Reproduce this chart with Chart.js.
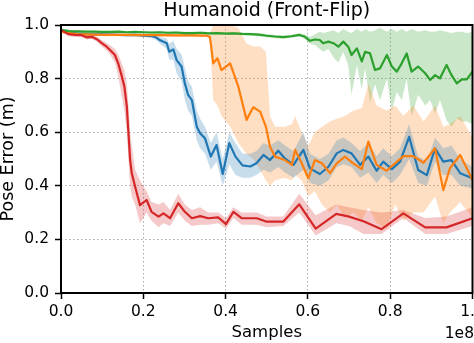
<!DOCTYPE html>
<html>
<head>
<meta charset="utf-8">
<script src="https://cdn.jsdelivr.net/npm/chart.js@4/dist/chart.umd.min.js"></script>
<style>
  html, body { margin: 0; padding: 0; background: #fff; }
  #c { display: block; }
</style>
</head>
<body>
<canvas id="c" width="474" height="343"></canvas>
<script>
// ---- Data (x in units of 1e8 samples, y = pose error in m) ----
const xTicks = [0.0, 0.2, 0.4, 0.6, 0.8, 1.0];
const yTicks = [0.0, 0.2, 0.4, 0.6, 0.8, 1.0];

// Blue (C0)
const blueX = [0, 0.02, 0.04, 0.06, 0.08, 0.10, 0.12, 0.14, 0.16, 0.18, 0.20, 0.22, 0.23, 0.241, 0.257, 0.263, 0.273, 0.281, 0.293, 0.301, 0.309, 0.318, 0.33, 0.338, 0.35, 0.364, 0.378, 0.393, 0.409, 0.424, 0.441, 0.46, 0.475, 0.492, 0.508, 0.528, 0.544, 0.565, 0.589, 0.605, 0.629, 0.65, 0.67, 0.686, 0.706, 0.727, 0.747, 0.767, 0.783, 0.804, 0.824, 0.846, 0.868, 0.889, 0.909, 0.929, 0.949, 0.97, 1.0];
const blueY = [0.98, 0.972, 0.968, 0.966, 0.965, 0.965, 0.964, 0.963, 0.962, 0.963, 0.96, 0.958, 0.955, 0.943, 0.932, 0.90, 0.909, 0.869, 0.845, 0.782, 0.739, 0.72, 0.62, 0.596, 0.577, 0.509, 0.552, 0.444, 0.559, 0.509, 0.476, 0.472, 0.484, 0.515, 0.496, 0.531, 0.502, 0.478, 0.534, 0.465, 0.444, 0.471, 0.521, 0.534, 0.521, 0.478, 0.509, 0.456, 0.49, 0.462, 0.49, 0.583, 0.459, 0.44, 0.54, 0.49, 0.496, 0.447, 0.428];
const blueLo = [0.976, 0.968, 0.964, 0.962, 0.961, 0.961, 0.96, 0.959, 0.958, 0.959, 0.955, 0.952, 0.945, 0.93, 0.91, 0.87, 0.87, 0.82, 0.79, 0.72, 0.68, 0.66, 0.57, 0.54, 0.52, 0.46, 0.49, 0.40, 0.48, 0.44, 0.43, 0.43, 0.44, 0.46, 0.45, 0.47, 0.45, 0.43, 0.46, 0.41, 0.40, 0.42, 0.47, 0.48, 0.47, 0.43, 0.45, 0.41, 0.44, 0.41, 0.44, 0.50, 0.41, 0.40, 0.49, 0.44, 0.44, 0.40, 0.39];
const blueHi = [0.984, 0.976, 0.972, 0.97, 0.969, 0.969, 0.968, 0.967, 0.966, 0.967, 0.965, 0.964, 0.962, 0.955, 0.95, 0.93, 0.94, 0.91, 0.89, 0.84, 0.79, 0.77, 0.68, 0.65, 0.62, 0.56, 0.60, 0.50, 0.60, 0.56, 0.52, 0.52, 0.53, 0.56, 0.55, 0.57, 0.55, 0.53, 0.60, 0.52, 0.50, 0.52, 0.57, 0.58, 0.56, 0.53, 0.56, 0.51, 0.54, 0.51, 0.54, 0.63, 0.51, 0.49, 0.58, 0.54, 0.55, 0.50, 0.47];

// Orange (C1)
const orangeX = [0, 0.04, 0.08, 0.12, 0.16, 0.20, 0.24, 0.28, 0.32, 0.355, 0.362, 0.37, 0.38, 0.39, 0.411, 0.431, 0.451, 0.467, 0.484, 0.498, 0.508, 0.52, 0.544, 0.561, 0.569, 0.585, 0.601, 0.617, 0.634, 0.654, 0.67, 0.69, 0.71, 0.731, 0.747, 0.767, 0.791, 0.812, 0.832, 0.856, 0.881, 0.909, 0.929, 0.945, 0.97, 1.0];
const orangeY = [0.975, 0.966, 0.964, 0.963, 0.963, 0.962, 0.962, 0.961, 0.961, 0.96, 0.955, 0.857, 0.876, 0.832, 0.857, 0.77, 0.646, 0.693, 0.677, 0.62, 0.546, 0.509, 0.496, 0.478, 0.534, 0.484, 0.428, 0.496, 0.484, 0.447, 0.484, 0.509, 0.484, 0.462, 0.565, 0.478, 0.456, 0.484, 0.511, 0.511, 0.486, 0.54, 0.384, 0.465, 0.515, 0.422];
const orangeLo = [0.97, 0.961, 0.959, 0.958, 0.958, 0.957, 0.957, 0.956, 0.956, 0.955, 0.94, 0.72, 0.70, 0.66, 0.62, 0.56, 0.52, 0.50, 0.46, 0.42, 0.40, 0.42, 0.43, 0.42, 0.44, 0.42, 0.36, 0.38, 0.33, 0.30, 0.33, 0.28, 0.30, 0.27, 0.32, 0.26, 0.24, 0.33, 0.27, 0.30, 0.30, 0.36, 0.26, 0.30, 0.34, 0.28];
const orangeHi = [0.98, 0.971, 0.969, 0.968, 0.968, 0.967, 0.967, 0.966, 0.966, 0.965, 0.97, 1.0, 1.0, 1.0, 1.0, 0.99, 0.93, 0.92, 0.92, 0.90, 0.66, 0.62, 0.62, 0.63, 0.66, 0.60, 0.55, 0.60, 0.62, 0.64, 0.65, 0.66, 0.68, 0.69, 0.78, 0.70, 0.68, 0.70, 0.66, 0.70, 0.64, 0.70, 0.62, 0.63, 0.66, 0.58];

// Green (C2)
const greenX = [0, 0.02, 0.04, 0.06, 0.08, 0.10, 0.12, 0.14, 0.16, 0.18, 0.20, 0.22, 0.24, 0.26, 0.28, 0.30, 0.32, 0.34, 0.36, 0.38, 0.40, 0.42, 0.44, 0.46, 0.48, 0.50, 0.52, 0.54, 0.56, 0.58, 0.593, 0.605, 0.617, 0.629, 0.637, 0.65, 0.662, 0.674, 0.686, 0.698, 0.706, 0.719, 0.731, 0.739, 0.751, 0.763, 0.775, 0.792, 0.804, 0.816, 0.828, 0.84, 0.852, 0.868, 0.885, 0.897, 0.909, 0.921, 0.937, 0.949, 0.962, 0.974, 0.986, 1.0];
const greenY = [0.982, 0.977, 0.976, 0.975, 0.975, 0.974, 0.974, 0.975, 0.973, 0.974, 0.973, 0.972, 0.973, 0.971, 0.972, 0.970, 0.970, 0.971, 0.969, 0.970, 0.968, 0.969, 0.967, 0.966, 0.964, 0.960, 0.957, 0.955, 0.958, 0.963, 0.956, 0.941, 0.946, 0.944, 0.932, 0.938, 0.932, 0.919, 0.938, 0.919, 0.888, 0.913, 0.864, 0.90, 0.894, 0.832, 0.838, 0.888, 0.845, 0.826, 0.857, 0.894, 0.826, 0.845, 0.82, 0.795, 0.813, 0.801, 0.851, 0.813, 0.782, 0.797, 0.797, 0.826];
const greenLo = [0.977, 0.972, 0.971, 0.970, 0.970, 0.969, 0.969, 0.970, 0.968, 0.969, 0.968, 0.967, 0.968, 0.966, 0.967, 0.965, 0.965, 0.966, 0.964, 0.965, 0.963, 0.964, 0.962, 0.961, 0.958, 0.954, 0.951, 0.949, 0.952, 0.957, 0.948, 0.93, 0.925, 0.91, 0.90, 0.91, 0.88, 0.86, 0.90, 0.85, 0.74, 0.85, 0.76, 0.84, 0.71, 0.78, 0.72, 0.80, 0.68, 0.75, 0.72, 0.80, 0.66, 0.74, 0.70, 0.72, 0.67, 0.72, 0.645, 0.62, 0.65, 0.64, 0.64, 0.63];
const greenHi = [0.986, 0.981, 0.980, 0.979, 0.979, 0.978, 0.978, 0.979, 0.977, 0.978, 0.977, 0.976, 0.977, 0.975, 0.976, 0.975, 0.975, 0.976, 0.974, 0.975, 0.973, 0.974, 0.972, 0.971, 0.970, 0.966, 0.963, 0.961, 0.964, 0.969, 0.965, 0.955, 0.965, 0.975, 0.97, 0.975, 0.98, 0.97, 0.985, 0.975, 0.97, 0.985, 0.975, 0.985, 0.975, 0.98, 0.99, 0.975, 0.985, 0.975, 0.985, 0.975, 0.985, 0.975, 0.98, 0.975, 0.975, 0.98, 0.975, 0.97, 0.975, 0.975, 0.97, 0.975];

// Red (C3)
const redX = [0, 0.018, 0.034, 0.05, 0.062, 0.075, 0.087, 0.099, 0.111, 0.119, 0.131, 0.139, 0.147, 0.154, 0.16, 0.164, 0.168, 0.172, 0.18, 0.192, 0.208, 0.22, 0.237, 0.249, 0.265, 0.285, 0.301, 0.318, 0.338, 0.358, 0.382, 0.401, 0.419, 0.439, 0.476, 0.5, 0.54, 0.579, 0.619, 0.669, 0.70, 0.735, 0.779, 0.832, 0.885, 0.937, 1.0];
const redY = [0.981, 0.966, 0.963, 0.962, 0.954, 0.956, 0.947, 0.932, 0.919, 0.907, 0.888, 0.857, 0.813, 0.77, 0.695, 0.596, 0.496, 0.447, 0.397, 0.328, 0.347, 0.303, 0.285, 0.297, 0.279, 0.335, 0.303, 0.279, 0.287, 0.279, 0.282, 0.257, 0.303, 0.279, 0.279, 0.266, 0.266, 0.331, 0.24, 0.295, 0.285, 0.268, 0.238, 0.297, 0.245, 0.245, 0.279];
const redLo = [0.975, 0.958, 0.955, 0.955, 0.946, 0.948, 0.938, 0.92, 0.905, 0.89, 0.86, 0.81, 0.74, 0.68, 0.60, 0.50, 0.40, 0.36, 0.33, 0.26, 0.30, 0.27, 0.245, 0.26, 0.25, 0.30, 0.27, 0.25, 0.255, 0.255, 0.26, 0.24, 0.28, 0.255, 0.255, 0.245, 0.25, 0.30, 0.215, 0.26, 0.25, 0.22, 0.22, 0.28, 0.22, 0.22, 0.25];
const redHi = [0.986, 0.973, 0.97, 0.969, 0.962, 0.964, 0.956, 0.944, 0.933, 0.924, 0.91, 0.89, 0.86, 0.83, 0.78, 0.70, 0.60, 0.55, 0.46, 0.42, 0.38, 0.34, 0.33, 0.34, 0.31, 0.37, 0.33, 0.31, 0.32, 0.30, 0.30, 0.28, 0.32, 0.30, 0.30, 0.285, 0.285, 0.37, 0.29, 0.33, 0.32, 0.31, 0.30, 0.31, 0.28, 0.285, 0.32];

const titleText = 'Humanoid (Front-Flip)';
const xLabel = 'Samples';
const yLabel = 'Pose Error (m)';
const xOffsetText = '1e8';

// ---- Build datasets ----
const pts = (xs, ys) => xs.map((x, i) => ({ x: x, y: ys[i] }));
const FONT = "'DejaVu Sans', sans-serif";
const series = [
  { x: blueX, y: blueY, lo: blueLo, hi: blueHi, line: '#1f77b4', band: 'rgba(31,119,180,0.25)', order: 3 },
  { x: orangeX, y: orangeY, lo: orangeLo, hi: orangeHi, line: '#ff7f0e', band: 'rgba(255,127,14,0.25)', order: 2 },
  { x: greenX, y: greenY, lo: greenLo, hi: greenHi, line: '#2ca02c', band: 'rgba(44,160,44,0.25)', order: 1 },
  { x: redX, y: redY, lo: redLo, hi: redHi, line: '#d62728', band: 'rgba(214,39,40,0.25)', order: 0 }
];
const datasets = [];
series.forEach(s => {
  datasets.push({ data: pts(s.x, s.lo), borderWidth: 0, pointRadius: 0, fill: '+1', backgroundColor: s.band, borderColor: 'rgba(0,0,0,0)', order: 20 });
  datasets.push({ data: pts(s.x, s.hi), borderWidth: 0, pointRadius: 0, fill: false, borderColor: 'rgba(0,0,0,0)', order: 20 });
});
series.forEach(s => {
  datasets.push({ data: pts(s.x, s.y), borderWidth: 2.2, pointRadius: 0, fill: false, borderColor: s.line, tension: 0, order: s.order, borderJoinStyle: 'round', borderCapStyle: 'round' });
});

const framePlugin = {
  id: 'frame',
  afterDraw(chart) {
    const { ctx, chartArea: a } = chart;
    ctx.save();
    ctx.strokeStyle = '#000';
    ctx.lineWidth = 2;
    ctx.strokeRect(a.left, a.top, a.right - a.left, a.bottom - a.top);
    ctx.fillStyle = '#000';
    ctx.font = "15.5px " + FONT;
    ctx.textAlign = 'right';
    ctx.textBaseline = 'alphabetic';
    ctx.fillText(xOffsetText, 474, 338);
    ctx.restore();
  }
};

const tickFont = { family: FONT, size: 15.5 };
new Chart(document.getElementById('c'), {
  type: 'line',
  data: { datasets },
  plugins: [framePlugin],
  options: {
    responsive: false,
    animation: false,
    events: [],
    layout: { padding: { left: 0, right: 1.5, top: 0, bottom: 0 } },
    plugins: {
      legend: { display: false },
      tooltip: { enabled: false },
      filler: { drawTime: 'beforeDatasetsDraw' },
      title: {
        display: true, text: titleText, fullSize: false, color: '#000',
        font: { family: FONT, size: 19, weight: 'normal', lineHeight: 1.2 },
        padding: { top: 0, bottom: 2.2 }
      }
    },
    scales: {
      x: {
        type: 'linear', min: 0, max: 1,
        afterBuildTicks(s) { s.ticks = xTicks.map(v => ({ value: v })); },
        ticks: { callback: v => v.toFixed(1), color: '#000', font: tickFont, maxRotation: 0, autoSkip: false, padding: 4 },
        grid: { color: '#aaaaaa', lineWidth: 1, tickLength: 6, tickColor: '#000', tickWidth: 1.5 },
        border: { display: false, dash: [1.5, 2.5] },
        title: { display: true, text: xLabel, color: '#000', font: { family: FONT, size: 16.5, lineHeight: 1.2 }, padding: { top: 0, bottom: 0 } },
        afterFit(s) { s.height = 50; s.paddingLeft = 0; s.paddingRight = 0; }
      },
      y: {
        type: 'linear', min: 0, max: 1,
        afterBuildTicks(s) { s.ticks = yTicks.map(v => ({ value: v })); },
        ticks: { callback: v => v.toFixed(1), color: '#000', font: tickFont, padding: 6 },
        grid: { color: '#aaaaaa', lineWidth: 1, tickLength: 6, tickColor: '#000', tickWidth: 1.5 },
        border: { display: false, dash: [1.5, 2.5] },
        title: { display: true, text: yLabel, color: '#000', font: { family: FONT, size: 17.5, lineHeight: 1.0 }, padding: { top: 0, bottom: 0 } },
        afterFit(s) { s.width = 61; s.paddingTop = 0; s.paddingBottom = 0; }
      }
    }
  }
});
</script>
</body>
</html>
